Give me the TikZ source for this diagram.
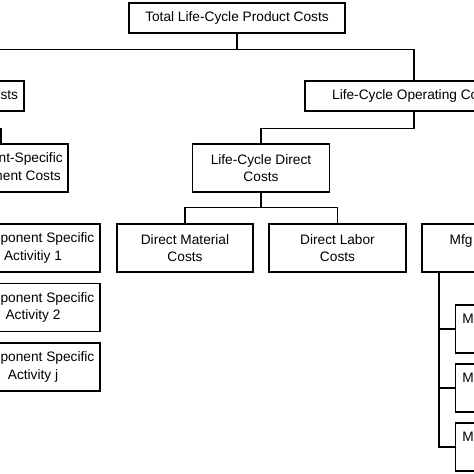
\documentclass[tikz,border=0pt]{standalone}
\usepackage{fontspec}
\setmainfont{Liberation Sans}
\usepackage{tikz}
\tikzset{
  box/.style={draw,line width=1.3pt,align=center,inner sep=0pt,font=\fontsize{13.7}{17.5}\selectfont},
  single/.style={box,minimum height=30pt},
  double/.style={box,minimum height=48pt},
  link/.style={line width=1.3pt}
}

\begin{document}
\begin{tikzpicture}[x=1pt,y=-1pt]
	\useasboundingbox (0,0) rectangle (474,474);
	\clip (0,0) rectangle (474,474);
	% first and second level
	\node [single,minimum width=216pt] (1) at (237,18) {Total Life-Cycle Product Costs};
	\node [single,minimum width=196pt] (2) at (-74,96) {Life-Cycle Development Costs};
	\node [single,minimum width=218pt] (3) at (414,96) {Life-Cycle Operating Costs};
	% development branch
	\node [double,minimum width=134pt] (4) at (1,168) {Component-Specific\\Development Costs};
	\node [double,minimum width=134pt] (5) at (33,248) {Component Specific\\Activitiy 1};
	\node [double,minimum width=134pt] (6) at (33,307.5) {Component Specific\\Activity 2};
	\node [double,minimum width=134pt] (7) at (33,367) {Component Specific\\Activity j};
	% operating branch
	\node [double,minimum width=137pt] (8) at (261,168) {Life-Cycle Direct\\Costs};
	\node [double,minimum width=136pt] (9) at (185,248) {Direct Material\\Costs};
	\node [double,minimum width=137pt] (10) at (337.5,248) {Direct Labor\\Costs};
	\node [double,minimum width=142pt] (11) at (493,248) {Mfg Overhead\\Costs};
	\node [double,minimum width=152pt,anchor=west] (12) at (455,329) {Mfg Overhead Specific\\Activity 1};
	\node [double,minimum width=152pt,anchor=west] (13) at (455,388) {Mfg Overhead Specific\\Activity 2};
	\node [double,minimum width=152pt,anchor=west] (14) at (455,447) {Mfg Overhead Specific\\Activity j};

	\draw [link] (1.south) -- ++(0,16) coordinate (a);
	\draw [link] (2.north) |- (a) -| (3.north);
	\draw [link] (3.south) -- ++(0,17) coordinate (b);
	\draw [link] (2.south) |- (4.north |- b) -- (4.north);
	\draw [link] (b) -| (8.north);
	\draw [link] (8.south) -- ++(0,15) coordinate (d);
	\draw [link] (9.north) |- (d) -| (10.north);
	\coordinate (c) at (439,272);
	\draw [link] (c) |- (14.west);
	\draw [link] (c |- 12.west) -- (12.west);
	\draw [link] (c |- 13.west) -- (13.west);
\end{tikzpicture}
\end{document}
